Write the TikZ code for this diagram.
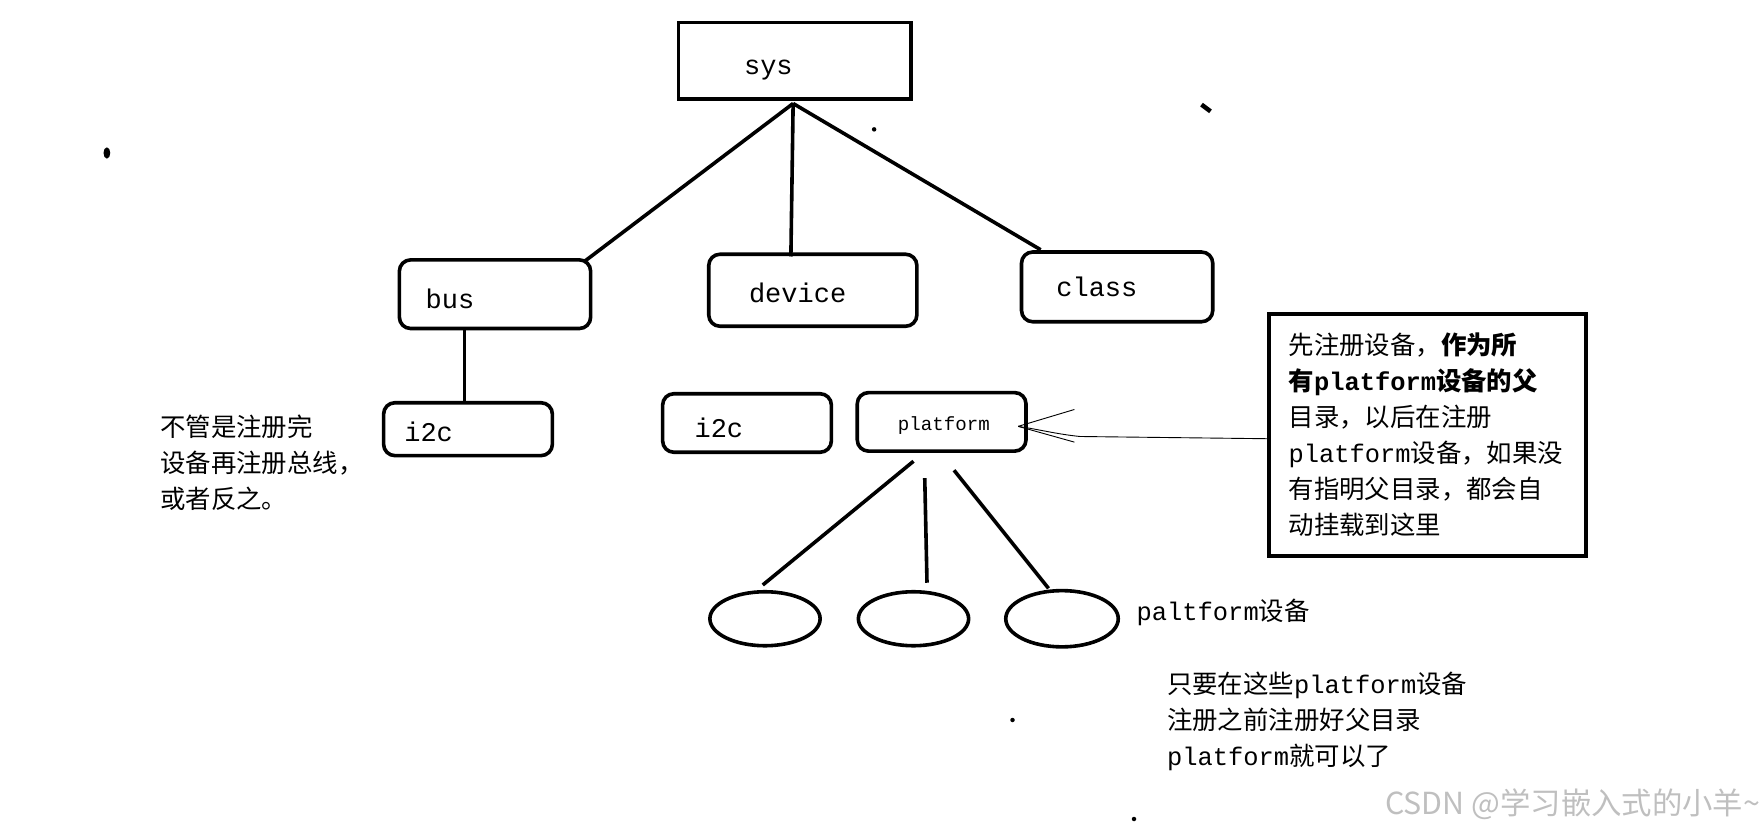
\documentclass[tikz,border=0pt]{standalone}
\usepackage{fontspec}
\setmainfont{Liberation Mono}
\newfontfamily\cjk{Noto Sans CJK SC}
\begin{document}
\begin{tikzpicture}[x=0.5pt,y=-0.5pt,
  rbox/.style={draw,line width=1.6pt,rounded corners=5pt},
  sbox/.style={draw,line width=1.6pt},
  link/.style={line width=1.6pt},
  lbl/.style={font=\fontsize{12}{14}\selectfont,anchor=center},
  note/.style={font=\cjk\fontsize{11.3}{16}\selectfont,align=left,anchor=north west,inner sep=0pt}]
\useasboundingbox (0,0) rectangle (1568,742);
\draw[sbox] (603,20) rectangle (810,88);
\node[lbl] (sys) at (683,62) {sys};
\coordinate (top) at (705,92);
\draw[rbox] (355,231) rectangle (525,292); \node[lbl] at (400,266) {bus};
\draw[rbox] (630,226) rectangle (815,290); \node[lbl] at (709,260) {device};
\draw[rbox] (908,224) rectangle (1078,286); \node[lbl] at (975,255) {class};
\draw[link] (top) -- (520,232);
\draw[link] (top) -- (703,228);
\draw[link] (top) -- (925,222);
\draw[link] (413,292) -- (413,358);
\draw[rbox] (341,358) rectangle (491,405); \node[lbl] at (381,384) {i2c};
\draw[rbox] (589,350) rectangle (739,402); \node[lbl] at (639,380) {i2c};
\draw[rbox] (762,349) rectangle (912,401); \node[lbl,font=\fontsize{8.5}{10}\selectfont] (plat) at (839,378) {platform};
\draw[thin] (1128,390) -- (960,388) .. controls (940,386) and (925,382) .. (905,379);
\draw[thin] (905,379) -- (955,364);
\draw[thin] (905,379) -- (955,393);
\draw[sbox] (1128,279) rectangle (1410,494);
\node[note] (n) at (1145,295) {先注册设备，\textbf{作为所}\\\textbf{有}{\rmfamily\bfseries platform}\textbf{设备的父}\\目录，以后在注册\\{\rmfamily platform}设备，如果没\\有指明父目录，都会自\\动挂载到这里};
\draw[link] (812,410) -- (678,520);
\draw[link] (822,425) -- (824,518);
\draw[link] (848,418) -- (932,523);
\draw[link] (680,550) ellipse [x radius=49,y radius=24];
\draw[link] (812,550) ellipse [x radius=49,y radius=24];
\draw[link] (944,550) ellipse [x radius=50,y radius=25];
\node[anchor=west,font=\fontsize{11.3}{13}\selectfont,inner sep=0pt] at (1010,544) {paltform{\cjk 设备}};
\node[note] at (142,368) {不管是注册完\\设备再注册总线，\\或者反之。};
\node[note] at (1037,597) {只要在这些{\rmfamily platform}设备\\注册之前注册好父目录\\{\rmfamily platform}就可以了};
\node[anchor=east,font=\cjk\fontsize{13.5}{15}\selectfont,text=black!25,inner sep=0pt] at (1565,715) {CSDN @学习嵌入式的小羊\textasciitilde};
\fill (95,136) ellipse [x radius=3,y radius=5];
\fill (777,115) circle (2);
\draw[line width=2pt] (1068,93) -- (1076,99);
\fill (900,640) circle (2);
\fill (1008,728) circle (2);
\end{tikzpicture}
\end{document}
